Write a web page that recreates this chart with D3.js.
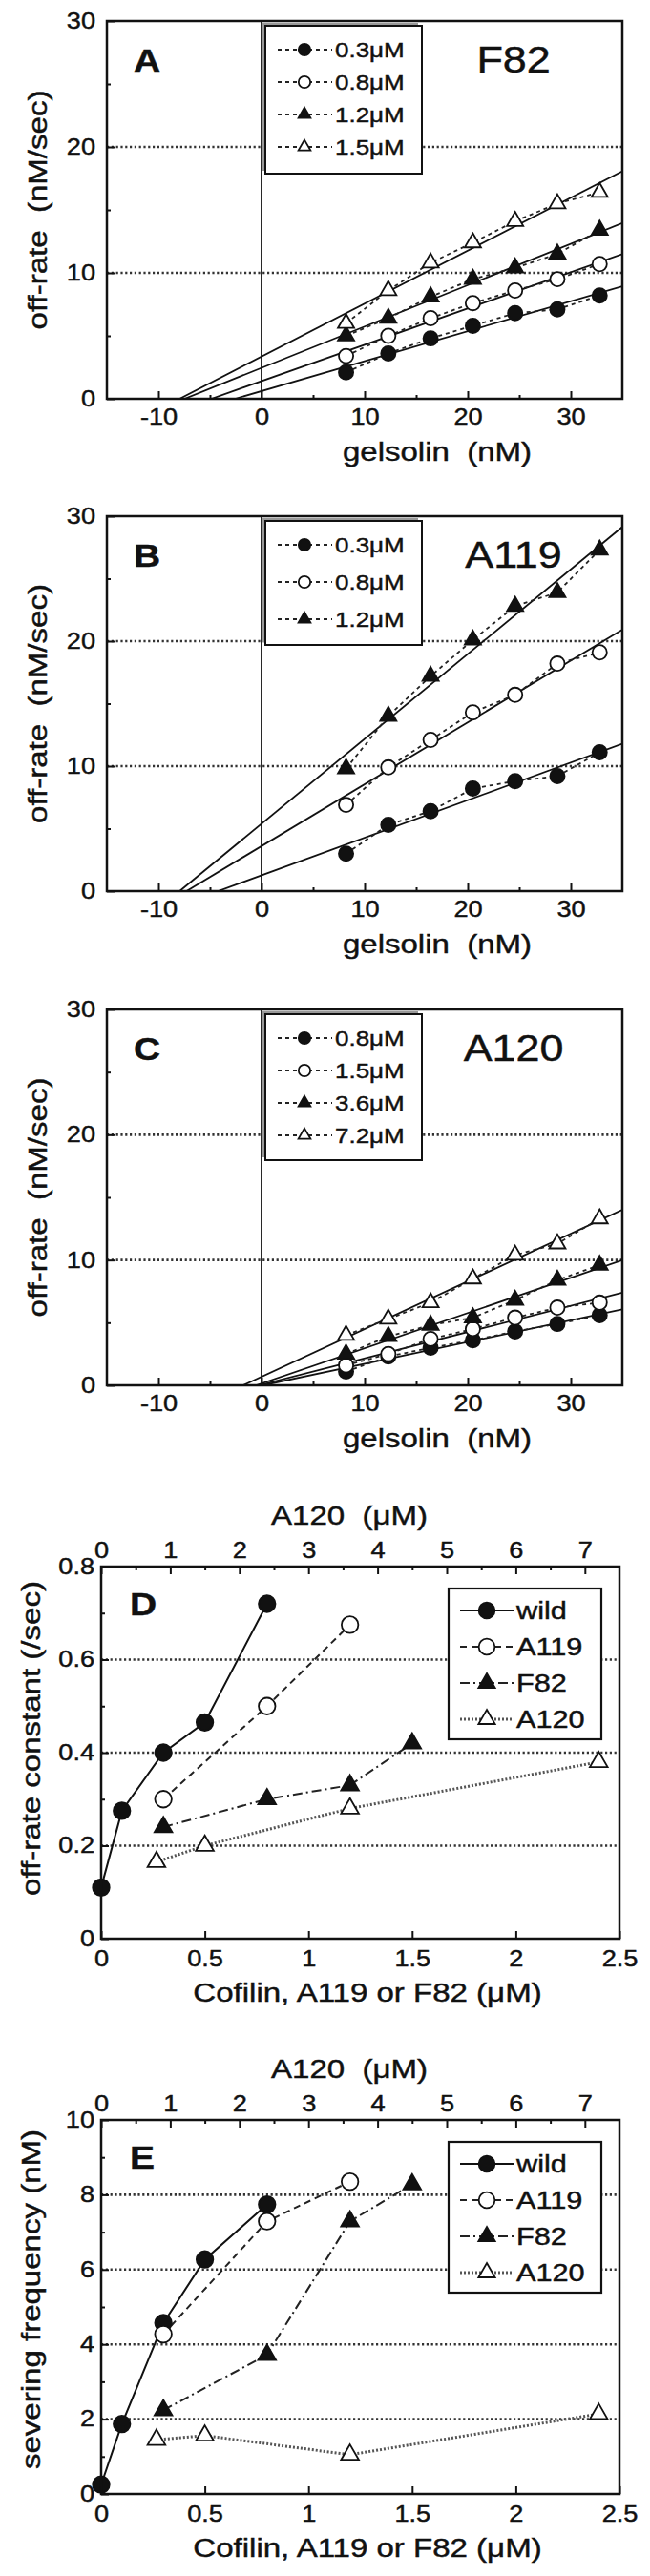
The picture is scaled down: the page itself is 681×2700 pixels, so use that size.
<!DOCTYPE html>
<html>
<head>
<meta charset="utf-8">
<script src="https://cdn.jsdelivr.net/npm/d3@7"></script>
<style>
  body { margin: 0; background: #fff; }
  svg text { font-family: "Liberation Sans", Arial, Helvetica, sans-serif; fill: #111; stroke: #111; stroke-width: 0.45px; }
</style>
</head>
<body>
<svg id="fig" width="681" height="2700"></svg>
<script>
// gelsolin concentrations (nM), shared by panels A-C
var gelsolin = [8.2, 12.3, 16.4, 20.5, 24.6, 28.7, 32.8];
var gelsolinTicks = [-10, 0, 10, 20, 30];
var gelsolinMinor = [-5, 5, 15, 25];
var rateTicks = [0, 10, 20, 30];
var rateMinor = [5, 15, 25];

// Panel A: F82 (off-rate, nM/sec)
var f82Labels = ["0.3μM", "0.8μM", "1.2μM", "1.5μM"];
var f82_03 = [2.1, 3.6, 4.8, 5.8, 6.8, 7.1, 8.2];
var f82_08 = [3.4, 5.0, 6.4, 7.6, 8.6, 9.5, 10.7];
var f82_12 = [5.0, 6.4, 8.1, 9.5, 10.4, 11.5, 13.4];
var f82_15 = [6.0, 8.6, 10.8, 12.4, 14.1, 15.5, 16.4];

// Panel B: A119
var a119Labels = ["0.3μM", "0.8μM", "1.2μM"];
var a119_03 = [3.0, 5.3, 6.4, 8.2, 8.8, 9.2, 11.1];
var a119_08 = [6.9, 9.9, 12.1, 14.3, 15.7, 18.2, 19.1];
var a119_12 = [9.8, 14.0, 17.2, 20.1, 22.8, 23.9, 27.3];

// Panel C: A120
var a120Labels = ["0.8μM", "1.5μM", "3.6μM", "7.2μM"];
var a120_08 = [1.1, 2.3, 3.0, 3.6, 4.3, 4.9, 5.6];
var a120_15 = [1.6, 2.5, 3.7, 4.5, 5.4, 6.2, 6.6];
var a120_36 = [2.5, 3.9, 4.8, 5.4, 6.8, 8.4, 9.6];
var a120_72 = [4.0, 5.3, 6.6, 8.5, 10.4, 11.3, 13.3];

// Panels D, E
var mutants = ["wild", "A119", "F82", "A120"];
var wildConc = [0, 0.1, 0.3, 0.5, 0.8];
var a119Conc = [0.3, 0.8, 1.2];
var f82Conc = [0.3, 0.8, 1.2, 1.5];
var a120Conc = [0.8, 1.5, 3.6, 7.2];   // read on the top axis
var offWild = [0.11, 0.275, 0.40, 0.465, 0.72];
var offA119 = [0.30, 0.50, 0.675];
var offF82 = [0.24, 0.30, 0.33, 0.42];
var offA120 = [0.165, 0.20, 0.28, 0.38];
var sevWild = [0.25, 1.87, 4.57, 6.27, 7.74];
var sevA119 = [4.27, 7.29, 8.35];
var sevF82 = [2.24, 3.72, 7.29, 8.28];
var sevA120 = [1.45, 1.56, 1.05, 2.14];
var cofilinTicks = [0, 0.5, 1, 1.5, 2, 2.5];
var a120Ticks = [0, 1, 2, 3, 4, 5, 6, 7];
var a120Minor = [0.5, 1.5, 2.5, 3.5, 4.5, 5.5, 6.5];
var offTicks = [0, 0.2, 0.4, 0.6, 0.8];
var offMinor = [0.1, 0.3, 0.5, 0.7];
var sevTicks = [0, 2, 4, 6, 8, 10];
var sevMinor = [1, 3, 5, 7, 9];

var svg = d3.select("#fig");
var SX = 1.18; // the scanned lettering is wider than Arial

function addText(g, x, y, str, size, opts) {
  opts = opts || {};
  var tr = "translate(" + x + "," + y + ")";
  if (opts.rotate) tr += " rotate(-90)";
  tr += " scale(" + SX + ",1)";
  var t = g.append("text")
    .attr("transform", tr)
    .attr("text-anchor", opts.anchor || "start")
    .style("font-size", size + "px")
    .style("font-weight", opts.bold ? "bold" : "normal")
    .style("white-space", "pre")
    .text(str);
  if (opts.baseline) t.attr("dominant-baseline", opts.baseline);
  return t;
}

function fitLine(xs, ys) {
  var mx = d3.mean(xs), my = d3.mean(ys);
  var sxy = d3.sum(xs, function (v, i) { return (v - mx) * (ys[i] - my); });
  var sxx = d3.sum(xs, function (v) { return (v - mx) * (v - mx); });
  var slope = sxy / sxx;
  return { slope: slope, intercept: my - slope * mx };
}

function drawMarker(g, type, px, py, size) {
  var sym = type.indexOf("circle") >= 0 ? d3.symbolCircle : d3.symbolTriangle;
  var filled = type.charAt(0) === "f";
  g.append("path")
    .attr("transform", "translate(" + px + "," + py + ")")
    .attr("d", d3.symbol().type(sym).size(size)())
    .attr("fill", filled ? "#111" : "#fff")
    .attr("stroke", "#111")
    .attr("stroke-width", 1.8);
}

function styleAxis(ax, side, pad) {
  ax.select(".domain").remove();
  ax.selectAll(".tick line").attr("stroke", "#111").attr("stroke-width", 2);
  ax.selectAll(".tick text")
    .attr("fill", "#111")
    .style("font-size", "23px")
    .attr("transform", "scale(" + SX + ",1)");
  if (side === "left") ax.selectAll(".tick text").attr("x", -pad / SX);
}

function addAxis(g, axis, tx, ty, side, pad) {
  var ax = g.append("g").attr("transform", "translate(" + tx + "," + ty + ")").call(axis);
  styleAxis(ax, side, pad);
  return ax;
}

var markerTypes = ["fcircle", "ocircle", "ftriangle", "otriangle"];

// ---------- panels A, B, C ----------
function gelsolinPanel(top, bottom, letter, name, labels, rows, legendH, legendStep) {
  var left = 112, right = 652;
  var x = d3.scaleLinear().domain([-15, 35]).range([left, right]);
  var y = d3.scaleLinear().domain([0, 30]).range([bottom, top]);
  var g = svg.append("g");
  var clipId = "clip" + letter;
  g.append("clipPath").attr("id", clipId).append("rect")
    .attr("x", left).attr("y", top).attr("width", right - left).attr("height", bottom - top);

  g.selectAll(".grid").data(rateTicks.slice(1, -1)).enter().append("line")
    .attr("x1", left).attr("x2", right)
    .attr("y1", function (d) { return y(d); }).attr("y2", function (d) { return y(d); })
    .attr("stroke", "#333").attr("stroke-width", 2.6).attr("stroke-dasharray", "2.2,2.6");

  g.append("line").attr("x1", x(0)).attr("x2", x(0)).attr("y1", top).attr("y2", bottom)
    .attr("stroke", "#111").attr("stroke-width", 1.8);

  var plot = g.append("g").attr("clip-path", "url(#" + clipId + ")");
  rows.forEach(function (ys) {
    var f = fitLine(gelsolin, ys);
    var x0 = Math.max(-15, -f.intercept / f.slope);
    plot.append("path").datum([x0, 35])
      .attr("d", d3.line().x(function (d) { return x(d); }).y(function (d) { return y(f.slope * d + f.intercept); }))
      .attr("fill", "none").attr("stroke", "#111").attr("stroke-width", 1.8);
    plot.append("path").datum(ys)
      .attr("d", d3.line().x(function (d, j) { return x(gelsolin[j]); }).y(function (d) { return y(d); }))
      .attr("fill", "none").attr("stroke", "#222").attr("stroke-width", 1.8).attr("stroke-dasharray", "4,4");
  });
  rows.forEach(function (ys, i) {
    ys.forEach(function (v, j) {
      drawMarker(g, markerTypes[i], x(gelsolin[j]), y(v), markerTypes[i].indexOf("circle") >= 0 ? 180 : 125);
    });
  });

  g.append("rect").attr("x", left).attr("y", top).attr("width", right - left).attr("height", bottom - top)
    .attr("fill", "none").attr("stroke", "#111").attr("stroke-width", 2.5);

  addAxis(g, d3.axisBottom(x).tickValues(gelsolinTicks).tickSize(-8).tickPadding(11)
    .tickFormat(function (d) { return String(d); }), 0, bottom, "bottom", 11);
  addAxis(g, d3.axisBottom(x).tickValues(gelsolinMinor).tickSize(-4).tickFormat(""), 0, bottom, "bottom", 0);
  addAxis(g, d3.axisLeft(y).tickValues(rateTicks).tickSize(-8).tickPadding(12)
    .tickFormat(function (d) { return String(d); }), left, 0, "left", 12);
  addAxis(g, d3.axisLeft(y).tickValues(rateMinor).tickSize(-4).tickFormat(""), left, 0, "left", 0);

  // legend
  var lx = x(0) + 4, ly = top + 5, lw = 164;
  g.append("rect").attr("x", lx - 4).attr("y", ly - 3).attr("width", lw).attr("height", legendH).attr("fill", "#999");
  g.append("rect").attr("x", lx).attr("y", ly).attr("width", lw).attr("height", legendH)
    .attr("fill", "#fff").attr("stroke", "#111").attr("stroke-width", 2);
  labels.forEach(function (lab, i) {
    var ry = ly + 25 + i * legendStep;
    g.append("line").attr("x1", lx + 13).attr("x2", lx + 70).attr("y1", ry).attr("y2", ry)
      .attr("stroke", "#222").attr("stroke-width", 1.8).attr("stroke-dasharray", "4,4");
    drawMarker(g, markerTypes[i], lx + 41, ry, markerTypes[i].indexOf("circle") >= 0 ? 120 : 70);
    addText(g, lx + 73, ry + 8, lab, 22);
  });

  addText(g, 140, top + 53, letter, 33, { bold: true });
  addText(g, 538, top + 54, name, 38, { anchor: "middle" });
  addText(g, 458, bottom + 65, "gelsolin\u00a0 (nM)", 28, { anchor: "middle" });
  addText(g, 39, (top + bottom) / 2, "off-rate\u00a0 (nM/sec)", 28, { anchor: "middle", rotate: true, baseline: "central" });
}

gelsolinPanel(22, 418, "A", "F82", f82Labels, [f82_03, f82_08, f82_12, f82_15], 155, 34);
gelsolinPanel(541, 934, "B", "A119", a119Labels, [a119_03, a119_08, a119_12], 130, 39);
gelsolinPanel(1058, 1452, "C", "A120", a120Labels, [a120_08, a120_15, a120_36, a120_72], 153, 34);

// ---------- panels D, E ----------
var lineStyles = [
  { dash: null, color: "#111", width: 2 },
  { dash: "7,5", color: "#222", width: 2 },
  { dash: "10,4,2,4", color: "#222", width: 2 },
  { dash: "2,2", color: "#555", width: 3 }
];

function cofilinPanel(top, bottom, letter, yMax, yTicks, yMinor, yTitle, yTitleY, series) {
  var left = 106, right = 649;
  var x = d3.scaleLinear().domain([0, 2.5]).range([left, right]);
  var xTop = d3.scaleLinear().domain([0, 7.5]).range([left, right]);
  var y = d3.scaleLinear().domain([0, yMax]).range([bottom, top]);
  var g = svg.append("g");

  g.selectAll(".grid").data(yTicks.slice(1, -1)).enter().append("line")
    .attr("x1", left).attr("x2", right)
    .attr("y1", function (d) { return y(d); }).attr("y2", function (d) { return y(d); })
    .attr("stroke", "#333").attr("stroke-width", 2.6).attr("stroke-dasharray", "2.2,2.6");

  series.forEach(function (s, i) {
    var sx = s.top ? xTop : x;
    var st = lineStyles[i];
    var pts = s.xs.map(function (v, j) { return [sx(v), y(s.ys[j])]; });
    g.append("path").datum(pts).attr("d", d3.line())
      .attr("fill", "none").attr("stroke", st.color).attr("stroke-width", st.width)
      .attr("stroke-dasharray", st.dash);
  });
  series.forEach(function (s, i) {
    var sx = s.top ? xTop : x;
    s.xs.forEach(function (v, j) {
      drawMarker(g, markerTypes[i], sx(v), y(s.ys[j]), markerTypes[i].indexOf("circle") >= 0 ? 240 : 150);
    });
  });

  g.append("rect").attr("x", left).attr("y", top).attr("width", right - left).attr("height", bottom - top)
    .attr("fill", "none").attr("stroke", "#111").attr("stroke-width", 2.5);

  addAxis(g, d3.axisBottom(x).tickValues(cofilinTicks).tickSize(-8).tickPadding(13)
    .tickFormat(function (d) { return String(d); }), 0, bottom, "bottom", 13);
  addAxis(g, d3.axisTop(xTop).tickValues(a120Ticks).tickSize(-8).tickPadding(9)
    .tickFormat(function (d) { return String(d); }), 0, top, "top", 9);
  addAxis(g, d3.axisTop(xTop).tickValues(a120Minor).tickSize(-4).tickFormat(""), 0, top, "top", 0);
  addAxis(g, d3.axisLeft(y).tickValues(yTicks).tickSize(-8).tickPadding(7)
    .tickFormat(function (d) { return String(d); }), left, 0, "left", 7);
  addAxis(g, d3.axisLeft(y).tickValues(yMinor).tickSize(-4).tickFormat(""), left, 0, "left", 0);

  // legend
  var lx = 470, ly = top + 23, lw = 160, lh = 158;
  g.append("rect").attr("x", lx).attr("y", ly).attr("width", lw).attr("height", lh)
    .attr("fill", "#fff").attr("stroke", "#111").attr("stroke-width", 2.2);
  mutants.forEach(function (m, i) {
    var ry = ly + 23 + i * 38;
    var st = lineStyles[i];
    g.append("line").attr("x1", lx + 12).attr("x2", lx + 68).attr("y1", ry).attr("y2", ry)
      .attr("stroke", st.color).attr("stroke-width", st.width).attr("stroke-dasharray", st.dash);
    drawMarker(g, markerTypes[i], lx + 40, ry, markerTypes[i].indexOf("circle") >= 0 ? 220 : 130);
    addText(g, lx + 71, ry + 9, m, 26);
  });

  addText(g, 136, top + 51, letter, 33, { bold: true });
  addText(g, 385, bottom + 66, "Cofilin, A119 or F82 (μM)", 28, { anchor: "middle" });
  addText(g, 366, top - 44, "A120\u00a0 (μM)", 28, { anchor: "middle" });
  addText(g, 32, yTitleY, yTitle, 28, { anchor: "middle", rotate: true, baseline: "central" });
}

cofilinPanel(1642, 2032, "D", 0.8, offTicks, offMinor, "off-rate constant (/sec)", 1822, [
  { xs: wildConc, ys: offWild },
  { xs: a119Conc, ys: offA119 },
  { xs: f82Conc, ys: offF82 },
  { xs: a120Conc, ys: offA120, top: true }
]);
cofilinPanel(2222, 2614, "E", 10, sevTicks, sevMinor, "severing frequency (nM)", 2410, [
  { xs: wildConc, ys: sevWild },
  { xs: a119Conc, ys: sevA119 },
  { xs: f82Conc, ys: sevF82 },
  { xs: a120Conc, ys: sevA120, top: true }
]);
</script>
</body>
</html>
